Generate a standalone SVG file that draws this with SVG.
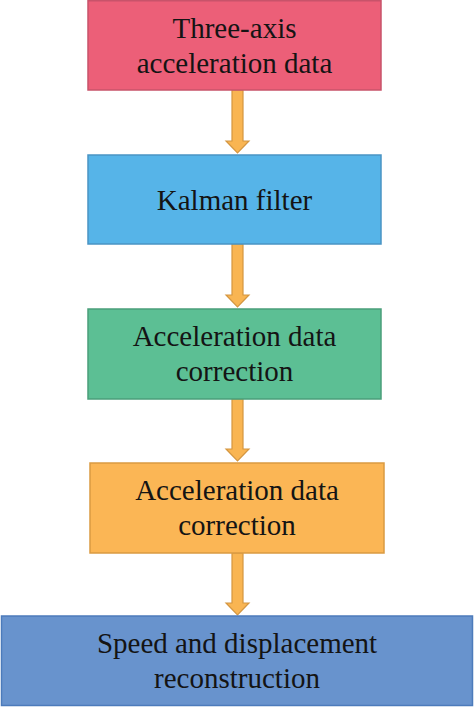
<svg xmlns="http://www.w3.org/2000/svg" width="474" height="707" viewBox="0 0 474 707">
<defs>
<style>
.box{stroke-width:1.5}
.t{font-family:"Liberation Serif","Times New Roman",serif;font-size:29px;fill:#141414;text-anchor:middle}
.arr{fill:#F9B552;stroke:#D49640;stroke-width:1.2;stroke-linejoin:miter}
</style>
</defs>
<rect width="474" height="707" fill="#ffffff"/>
<g id="connectors">
<path class="arr" d="M232,90 H243 V141 H249 L237.5,153 L226,141 H232 Z"/>
<path class="arr" d="M232,244 H243 V295 H249 L237.5,307 L226,295 H232 Z"/>
<path class="arr" d="M232,399 H243 V449 H249 L237.5,461 L226,449 H232 Z"/>
<path class="arr" d="M232,553 H243 V603 H249 L237.5,615 L226,603 H232 Z"/>
</g>
<g id="node1">
<rect class="box" x="88" y="0.75" width="293" height="89.25" fill="#EC5F78" stroke="#C8536A"/>
<text class="t" x="234.5" y="38">Three-axis</text>
<text class="t" x="234.5" y="73">acceleration data</text>
</g>
<g id="node2">
<rect class="box" x="88" y="155" width="293" height="89" fill="#56B4E8" stroke="#4A94C4"/>
<text class="t" x="234.5" y="210">Kalman filter</text>
</g>
<g id="node3">
<rect class="box" x="88" y="309" width="293" height="90" fill="#5CBF94" stroke="#4A9E7A"/>
<text class="t" x="234.5" y="346">Acceleration data</text>
<text class="t" x="234.5" y="381">correction</text>
</g>
<g id="node4">
<rect class="box" x="90" y="463" width="294" height="90" fill="#FBB655" stroke="#DA9A42"/>
<text class="t" x="237" y="500">Acceleration data</text>
<text class="t" x="237" y="535">correction</text>
</g>
<g id="node5">
<rect class="box" x="1.5" y="616" width="471" height="89.5" fill="#6893CD" stroke="#4C7BBB"/>
<text class="t" x="237" y="653">Speed and displacement</text>
<text class="t" x="237" y="688">reconstruction</text>
</g>
</svg>
